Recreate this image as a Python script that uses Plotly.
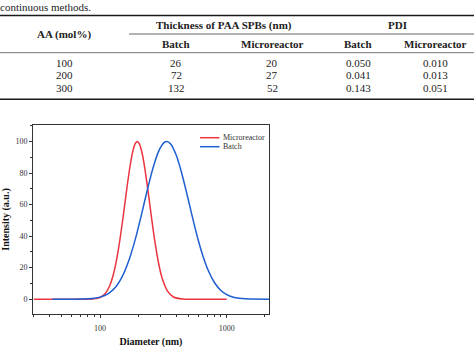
import plotly.graph_objects as go

# ---- Table data ----
aa_mol = ["100", "200", "300"]
thick_batch = ["26", "72", "132"]
thick_micro = ["20", "27", "52"]
pdi_batch = ["0.050", "0.041", "0.143"]
pdi_micro = ["0.010", "0.013", "0.051"]

# ---- DLS size distributions ----
micro_d = [30, 60, 90, 100, 110, 120, 130, 140, 150, 160, 170, 180, 190, 197,
           205, 215, 225, 240, 255, 270, 290, 310, 340, 380, 450, 600, 1000]
micro_i = [0, 0, 0.2, 1.1, 3.6, 9.0, 18.5, 32.0, 48.5, 65.6, 81.0, 92.5, 98.8, 100,
           98.4, 92.6, 83.8, 67.9, 51.7, 37.4, 22.8, 13.1, 5.3, 1.4, 0.1, 0, 0]

batch_d = [42, 60, 80, 90, 100, 110, 120, 135, 150, 170, 190, 210, 235, 260, 290,
           320, 336, 360, 400, 440, 480, 530, 590, 650, 720, 800, 900, 1000, 1150,
           1400, 2200]
batch_i = [0, 0, 0.2, 0.6, 1.3, 2.5, 4.3, 8.4, 14.5, 25.2, 38.1, 51.9, 68.5, 82.3, 93.8,
           99.3, 100, 98.6, 91.3, 80.4, 68.4, 53.8, 38.8, 27.3, 17.7, 10.6, 5.5, 2.9, 1.1,
           0.2, 0]

y_ticks = [0, 20, 40, 60, 80, 100]
x_ticks = [100, 1000]
x_minor = [30, 40, 50, 60, 70, 80, 90, 200, 300, 400, 500, 600, 700, 800, 900, 2000]

RED = "#ea3540"
BLUE = "#1f5fd2"
SERIF = "Liberation Serif"
TXT = "#222222"

W, H = 474, 348
L, R, T, B = 33, 269, 125, 314  # plot area in pixels


def fx(x):
    return (x - L) / (R - L)


def fy(y):
    return (B - y) / (B - T)


fig = go.Figure()
fig.add_trace(go.Scatter(x=micro_d, y=micro_i, mode="lines", name="Microreactor",
                         line=dict(color=RED, width=1.5, shape="spline", smoothing=0.6)))
fig.add_trace(go.Scatter(x=batch_d, y=batch_i, mode="lines", name="Batch",
                         line=dict(color=BLUE, width=1.5, shape="spline", smoothing=0.6)))

annotations = []
shapes = []


def text(x, y, s, size=11, bold=False, xanchor="center", color=TXT, family=SERIF):
    annotations.append(dict(
        x=fx(x), y=fy(y), xref="paper", yref="paper", xanchor=xanchor, yanchor="middle",
        text=f"<b>{s}</b>" if bold else s, showarrow=False,
        font=dict(family=family, size=size, color=color)))


def hrule(y, x0, x1, width, color):
    shapes.append(dict(type="line", xref="paper", yref="paper",
                       x0=fx(x0), x1=fx(x1), y0=fy(y), y1=fy(y),
                       line=dict(color=color, width=width)))


# caption tail above the table
text(-2, 6.5, "continuous methods.", size=11, xanchor="left")

# table rules
hrule(15.5, 0, 474, 1.6, "#1a1a1a")
hrule(34, 129, 474, 0.9, "#555555")
hrule(52.7, 0, 474, 0.9, "#666666")
hrule(99.3, 0, 474, 1.6, "#1a1a1a")

# table headers
text(64, 35, "AA (mol%)", bold=True)
text(224, 25, "Thickness of PAA SPBs (nm)", bold=True)
text(397, 25, "PDI", bold=True)
col_x = [176, 272, 358, 435]
for cx, lab in zip(col_x, ["Batch", "Microreactor", "Batch", "Microreactor"]):
    text(cx, 43.5, lab, bold=True)

# table body
row_y = [62.7, 75.2, 87.7]
for i, ry in enumerate(row_y):
    text(64, ry, aa_mol[i])
    text(col_x[0], ry, thick_batch[i])
    text(col_x[1], ry, thick_micro[i])
    text(col_x[2], ry, pdi_batch[i])
    text(col_x[3], ry, pdi_micro[i])

# chart legend
for ly, name, col in [(137.7, "Microreactor", RED), (146.7, "Batch", BLUE)]:
    shapes.append(dict(type="line", xref="paper", yref="paper",
                       x0=fx(200), x1=fx(219.5), y0=fy(ly), y1=fy(ly),
                       line=dict(color=col, width=1.5)))
    text(221, ly, name, size=8, xanchor="left", color="#333333")

fig.update_layout(
    width=W, height=H,
    margin=dict(l=L, r=W - R, t=T, b=H - B, pad=0, autoexpand=False),
    paper_bgcolor="white", plot_bgcolor="white",
    showlegend=False,
    font=dict(family=SERIF, color="#222222"),
    annotations=annotations,
    shapes=shapes,
    xaxis=dict(
        type="log", range=[1.471, 3.334], automargin=False,
        tickvals=x_ticks, ticktext=[str(v) for v in x_ticks],
        ticks="outside", ticklen=3, tickwidth=1, tickcolor="#333333",
        ticklabelstandoff=3,
        minor=dict(tickvals=x_minor, ticks="outside", ticklen=2, tickwidth=1, tickcolor="#333333"),
        showline=True, linecolor="#333333", linewidth=1, mirror=True,
        showgrid=False, zeroline=False,
        tickfont=dict(family=SERIF, size=8, color="#333333"),
        title=dict(text="<b>Diameter (nm)</b>", font=dict(family=SERIF, size=10, color="#111111"),
                   standoff=6),
    ),
    yaxis=dict(
        range=[-9.4, 110.5], automargin=False,
        tickvals=y_ticks,
        ticks="outside", ticklen=3, tickwidth=1, tickcolor="#333333",
        minor=dict(dtick=10, tick0=0, ticks="outside", ticklen=2, tickwidth=1, tickcolor="#333333"),
        showline=True, linecolor="#333333", linewidth=1, mirror=True,
        showgrid=False, zeroline=False,
        tickfont=dict(family=SERIF, size=8, color="#333333"),
        title=dict(text="<b>Intensity (a.u.)</b>", font=dict(family=SERIF, size=10, color="#111111"),
                   standoff=6),
    ),
)

fig.write_html("out.html")
